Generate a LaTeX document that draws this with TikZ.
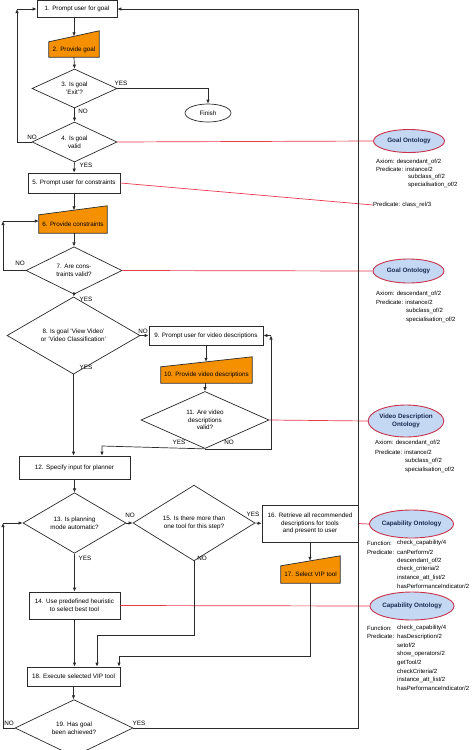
\documentclass[tikz,border=0pt]{standalone}
\usepackage{fontspec}
\setmainfont{Liberation Sans}
\usetikzlibrary{shapes.geometric,arrows.meta,calc,backgrounds}
\definecolor{lc}{HTML}{2B2B2B}
\definecolor{orangef}{HTML}{F59100}
\definecolor{redl}{HTML}{E8394F}
\definecolor{ellf}{HTML}{C4D8F4}
\definecolor{elld}{HTML}{C8334B}
\definecolor{navy}{HTML}{1B2A4E}
\begin{document}
\begin{tikzpicture}[x=1pt,y=-1pt,
  every node/.style={font=\fontsize{6.3}{7.6}\selectfont, inner sep=0pt},
  box/.style={draw=lc, line width=0.7pt, rectangle, align=center},
  dia/.style={draw=lc, line width=0.7pt, diamond, align=center},
  trap/.style={rectangle, align=center},
  onto/.style={ellipse, draw=elld, line width=0.9pt, fill=ellf, align=center, text=navy, font=\fontsize{6.3}{7.6}\selectfont\bfseries},
  txt/.style={anchor=west, font=\fontsize{6}{7.2}\selectfont},
  conn/.style={draw=lc, line width=0.7pt},
  arr/.style={conn, -{Latex[length=4pt,width=3.4pt]}},
  rl/.style={draw=redl, line width=0.7pt}
]
\useasboundingbox (0,0) rectangle (474,750);

% ---- flow nodes
\node[box, minimum width=80pt, minimum height=17.5pt] (b1) at (77,9) {1. Prompt user for goal};
\node[trap, minimum width=50pt, minimum height=15pt] (t2) at (74,49.5) {2. Provide goal};
\node[dia, minimum width=85pt, minimum height=39pt] (d3) at (74.5,88.5) {3. Is goal\\'Exit'?};
\node[ellipse, draw=lc, line width=0.7pt, minimum width=46pt, minimum height=18pt] (fin) at (208,113) {Finish};
\node[dia, minimum width=85pt, minimum height=40pt] (d4) at (74.5,142) {4. Is goal\\valid};
\node[box, minimum width=92pt, minimum height=20pt] (b5) at (74,183) {5. Prompt user for constraints};
\node[trap, minimum width=68pt, minimum height=18pt] (t6) at (73,224) {6. Provide constraints};
\node[dia, minimum width=96pt, minimum height=43pt] (d7) at (74,270.5) {7. Are cons-\\traints valid?};
\node[dia, minimum width=133pt, minimum height=53pt] (d8) at (73.5,335.5) {8. Is goal 'View Video'\\or 'Video Classification'};
\node[box, minimum width=114pt, minimum height=19pt] (b9) at (206,335.5) {9. Prompt user for video descriptions};
\node[trap, minimum width=91pt, minimum height=16pt] (t10) at (206.5,375) {10. Provide video descriptions};
\node[dia, minimum width=128pt, minimum height=52pt] (d11) at (205,420) {11. Are video\\descriptions\\valid?};
\node[box, minimum width=111pt, minimum height=23pt] (b12) at (74.5,467.5) {12. Specify input for planner};
\node[dia, minimum width=103pt, minimum height=52pt] (d13) at (74.5,523) {13. Is planning\\mode automatic?};
\node[dia, minimum width=122pt, minimum height=60pt] (d15) at (194,523) {15. Is there more than\\one tool for this step?};
\node[box, minimum width=96pt, minimum height=37pt] (b16) at (310,523.5) {16. Retrieve all recommended\\descriptions for tools\\and present to user};
\node[trap, minimum width=59pt, minimum height=17pt] (t17) at (310.5,574.5) {17. Select VIP tool};
\node[box, minimum width=91pt, minimum height=27pt] (b14) at (74.5,605.5) {14. Use predefined heuristic\\to select best tool};
\node[box, minimum width=93pt, minimum height=19pt] (b18) at (73.5,676.5) {18. Execute selected VIP tool};
\node[dia, minimum width=118pt, minimum height=42pt] (d19) at (74,728) {19. Has goal\\been achieved?};

% ---- background: white page and orange manual-input shapes
\begin{scope}[on background layer]
\fill[white] (0,0) rectangle (474,750);
\foreach \n/\r in {t2/11,t6/9,t10/10,t17/10}
  \filldraw[fill=orangef, draw=lc, line width=0.7pt] (\n.south west) -- (\n.south east) -- ($(\n.north east)+(0,-\r)$) -- (\n.north west) -- cycle;
\end{scope}
\coordinate (t2top) at ($(t2.north)+(0,-5.5)$);
\coordinate (t6top) at ($(t6.north)+(0,-4.5)$);
\coordinate (t10top) at ($(t10.north)+(0,-5)$);
\coordinate (t17top) at ($(t17.north)+(0,-5)$);

% ---- ontology side
\node[onto, minimum width=71pt, minimum height=23pt] (o1) at (409,141) {Goal Ontology};
\node[txt] (o1a) at (376,162) {Axiom: descendant\_of/2};
\node[txt] (o1b) at (376,169.5) {Predicate: instance/2};
\node[txt] (o1c) at (408,177) {subclass\_of/2};
\node[txt] (o1d) at (408,184.5) {specialisation\_of/2};
\node[txt] (pcr) at (373,205) {Predicate: class\_rel/3};

\node[onto, minimum width=71pt, minimum height=24pt] (o2) at (408.5,271) {Goal Ontology};
\node[txt] (o2a) at (376,294) {Axiom: descendant\_of/2};
\node[txt] (o2b) at (376,302.5) {Predicate: instance/2};
\node[txt] (o2c) at (406,311) {subclass\_of/2};
\node[txt] (o2d) at (406,319.5) {specialisation\_of/2};

\node[onto, minimum width=68pt, minimum height=32pt] (o3) at (406,421) {Video Description\\Ontology};
\node[txt] (o3a) at (375,443) {Axiom: descendant\_of/2};
\node[txt] (o3b) at (375,452) {Predicate: instance/2};
\node[txt] (o3c) at (405,461) {subclass\_of/2};
\node[txt] (o3d) at (405,469.5) {specialisation\_of/2};

\node[onto, minimum width=80pt, minimum height=28pt] (o4) at (411.5,524) {Capability Ontology};
\node[txt] (o4a) at (367,543) {Function:};
\node[txt] (o4b) at (397,543) {check\_capability/4};
\node[txt] (o4c) at (367,552) {Predicate:};
\node[txt] (o4d) at (397,552) {canPerform/2};
\node[txt] (o4e) at (397,560.5) {descendant\_of/2};
\node[txt] (o4f) at (397,569) {check\_criteria/2};
\node[txt] (o4g) at (397,577.5) {instance\_att\_list/2};
\node[txt] (o4h) at (397,586) {hasPerformanceIndicator/2};

\node[onto, minimum width=76pt, minimum height=28pt] (o5) at (412,606) {Capability Ontology};
\node[txt] (o5a) at (367,628) {Function:};
\node[txt] (o5b) at (397,628) {check\_capability/4};
\node[txt] (o5c) at (367,636.5) {Predicate:};
\node[txt] (o5d) at (397,636.5) {hasDescription/2};
\node[txt] (o5e) at (397,645) {setof/2};
\node[txt] (o5f) at (397,654) {show\_operators/2};
\node[txt] (o5g) at (397,662.5) {getTool/2};
\node[txt] (o5h) at (397,671) {checkCriteria/2};
\node[txt] (o5i) at (397,680) {instance\_att\_list/2};
\node[txt] (o5j) at (397,688.5) {hasPerformanceIndicator/2};

% ---- red links
\draw[rl] (d4.east) -- (o1.west);
\draw[rl] (b5.east) -- (pcr.west);
\draw[rl] (d7.east) -- (o2.west);
\draw[rl] (d11.east) -- (o3.west);
\draw[rl] (b16.east) -- (o4.west);
\draw[rl] (b14.east) -- (o5.west);

% ---- corner coordinates
\coordinate (c1) at (17,9);
\coordinate (c9) at (3,221);
\coordinate (c14) at (271,335.5);
\coordinate (c15) at (102,446);
\coordinate (c21) at (119,656);
\coordinate (c22) at (97,635);
\coordinate (c26) at (3,523);
\coordinate (c27) at (358,9);

% ---- connectors
\draw[arr] (b1.south -| t2top) -- (t2top);
\draw[arr] (t2.south) -- (d3.north);
\draw[arr] (d3.east) -| (fin.north);
\draw[arr] (d3.south) -- (d4.north);
\draw[arr] (d4.west) -- (d4.west -| c1) -- (c1);
\draw[arr] (c1) -- (b1.west);
\draw[arr] (d4.south) -- (b5.north);
\draw[arr] (b5.south) -- (b5.south |- t6top);
\draw[arr] (t6.south -| b5.south) -- (d7.north);
\draw[arr] (d7.west) -- (d7.west -| c9) -- (c9);
\draw[arr] (c9) -- (c9 -| t6.west);
\draw[arr] (d7.south) -- (d8.north);
\draw[arr] (d8.east) -- (b9.west);
\draw[arr] (b9.south) -- (b9.south |- t10top);
\draw[arr] (t10.south -| d11.north) -- (d11.north);
\draw[arr] (d11.south) -- (d11.south -| c14) -- (c14);
\draw[arr] (c14) -- (b9.east);
\draw[arr] (d11.south) -- (c15) -- (c15 |- b12.north);
\draw[arr] (d8.south) -- (d8.south |- b12.north);
\draw[arr] (b12.south) -- (d13.north);
\draw[arr] (d13.east) -- (d15.west);
\draw[arr] (d15.east) -- (b16.west);
\draw[arr] (b16.south) -- (b16.south |- t17top);
\draw[arr] (t17.south -| b16.south) -- (b16.south |- c21) -- (c21) -- (c21 |- b18.north);
\draw[arr] (d15.south) -- (d15.south |- c22) -- (c22) -- (c22 |- b18.north);
\draw[arr] (d13.south) -- (b14.north);
\draw[arr] (b14.south) -- (b14.south |- b18.north);
\draw[arr] (b18.south) -- (b18.south |- d19.north);
\draw[arr] (d19.west) -- (d19.west -| c26) -- (c26);
\draw[arr] (c26) -- (d13.west);
\draw[arr] (d19.east) -- (d19.east -| c27) -- (c27) -- (b1.east);

% ---- branch labels
\node (l3y) at (121,83) {YES};
\node (l3n) at (83,111) {NO};
\node (l4n) at (32,137) {NO};
\node (l4y) at (86,165) {YES};
\node (l7n) at (20,263) {NO};
\node (l7y) at (86,299) {YES};
\node (l8n) at (143,331) {NO};
\node (l8y) at (86,367) {YES};
\node (l11y) at (179,442) {YES};
\node (l11n) at (229,442) {NO};
\node (l13n) at (130,515) {NO};
\node (l15y) at (253,514) {YES};
\node (l13y) at (85,558) {YES};
\node (l15n) at (202,558) {NO};
\node (l19n) at (9,723) {NO};
\node (l19y) at (139,723) {YES};
\end{tikzpicture}
\end{document}
